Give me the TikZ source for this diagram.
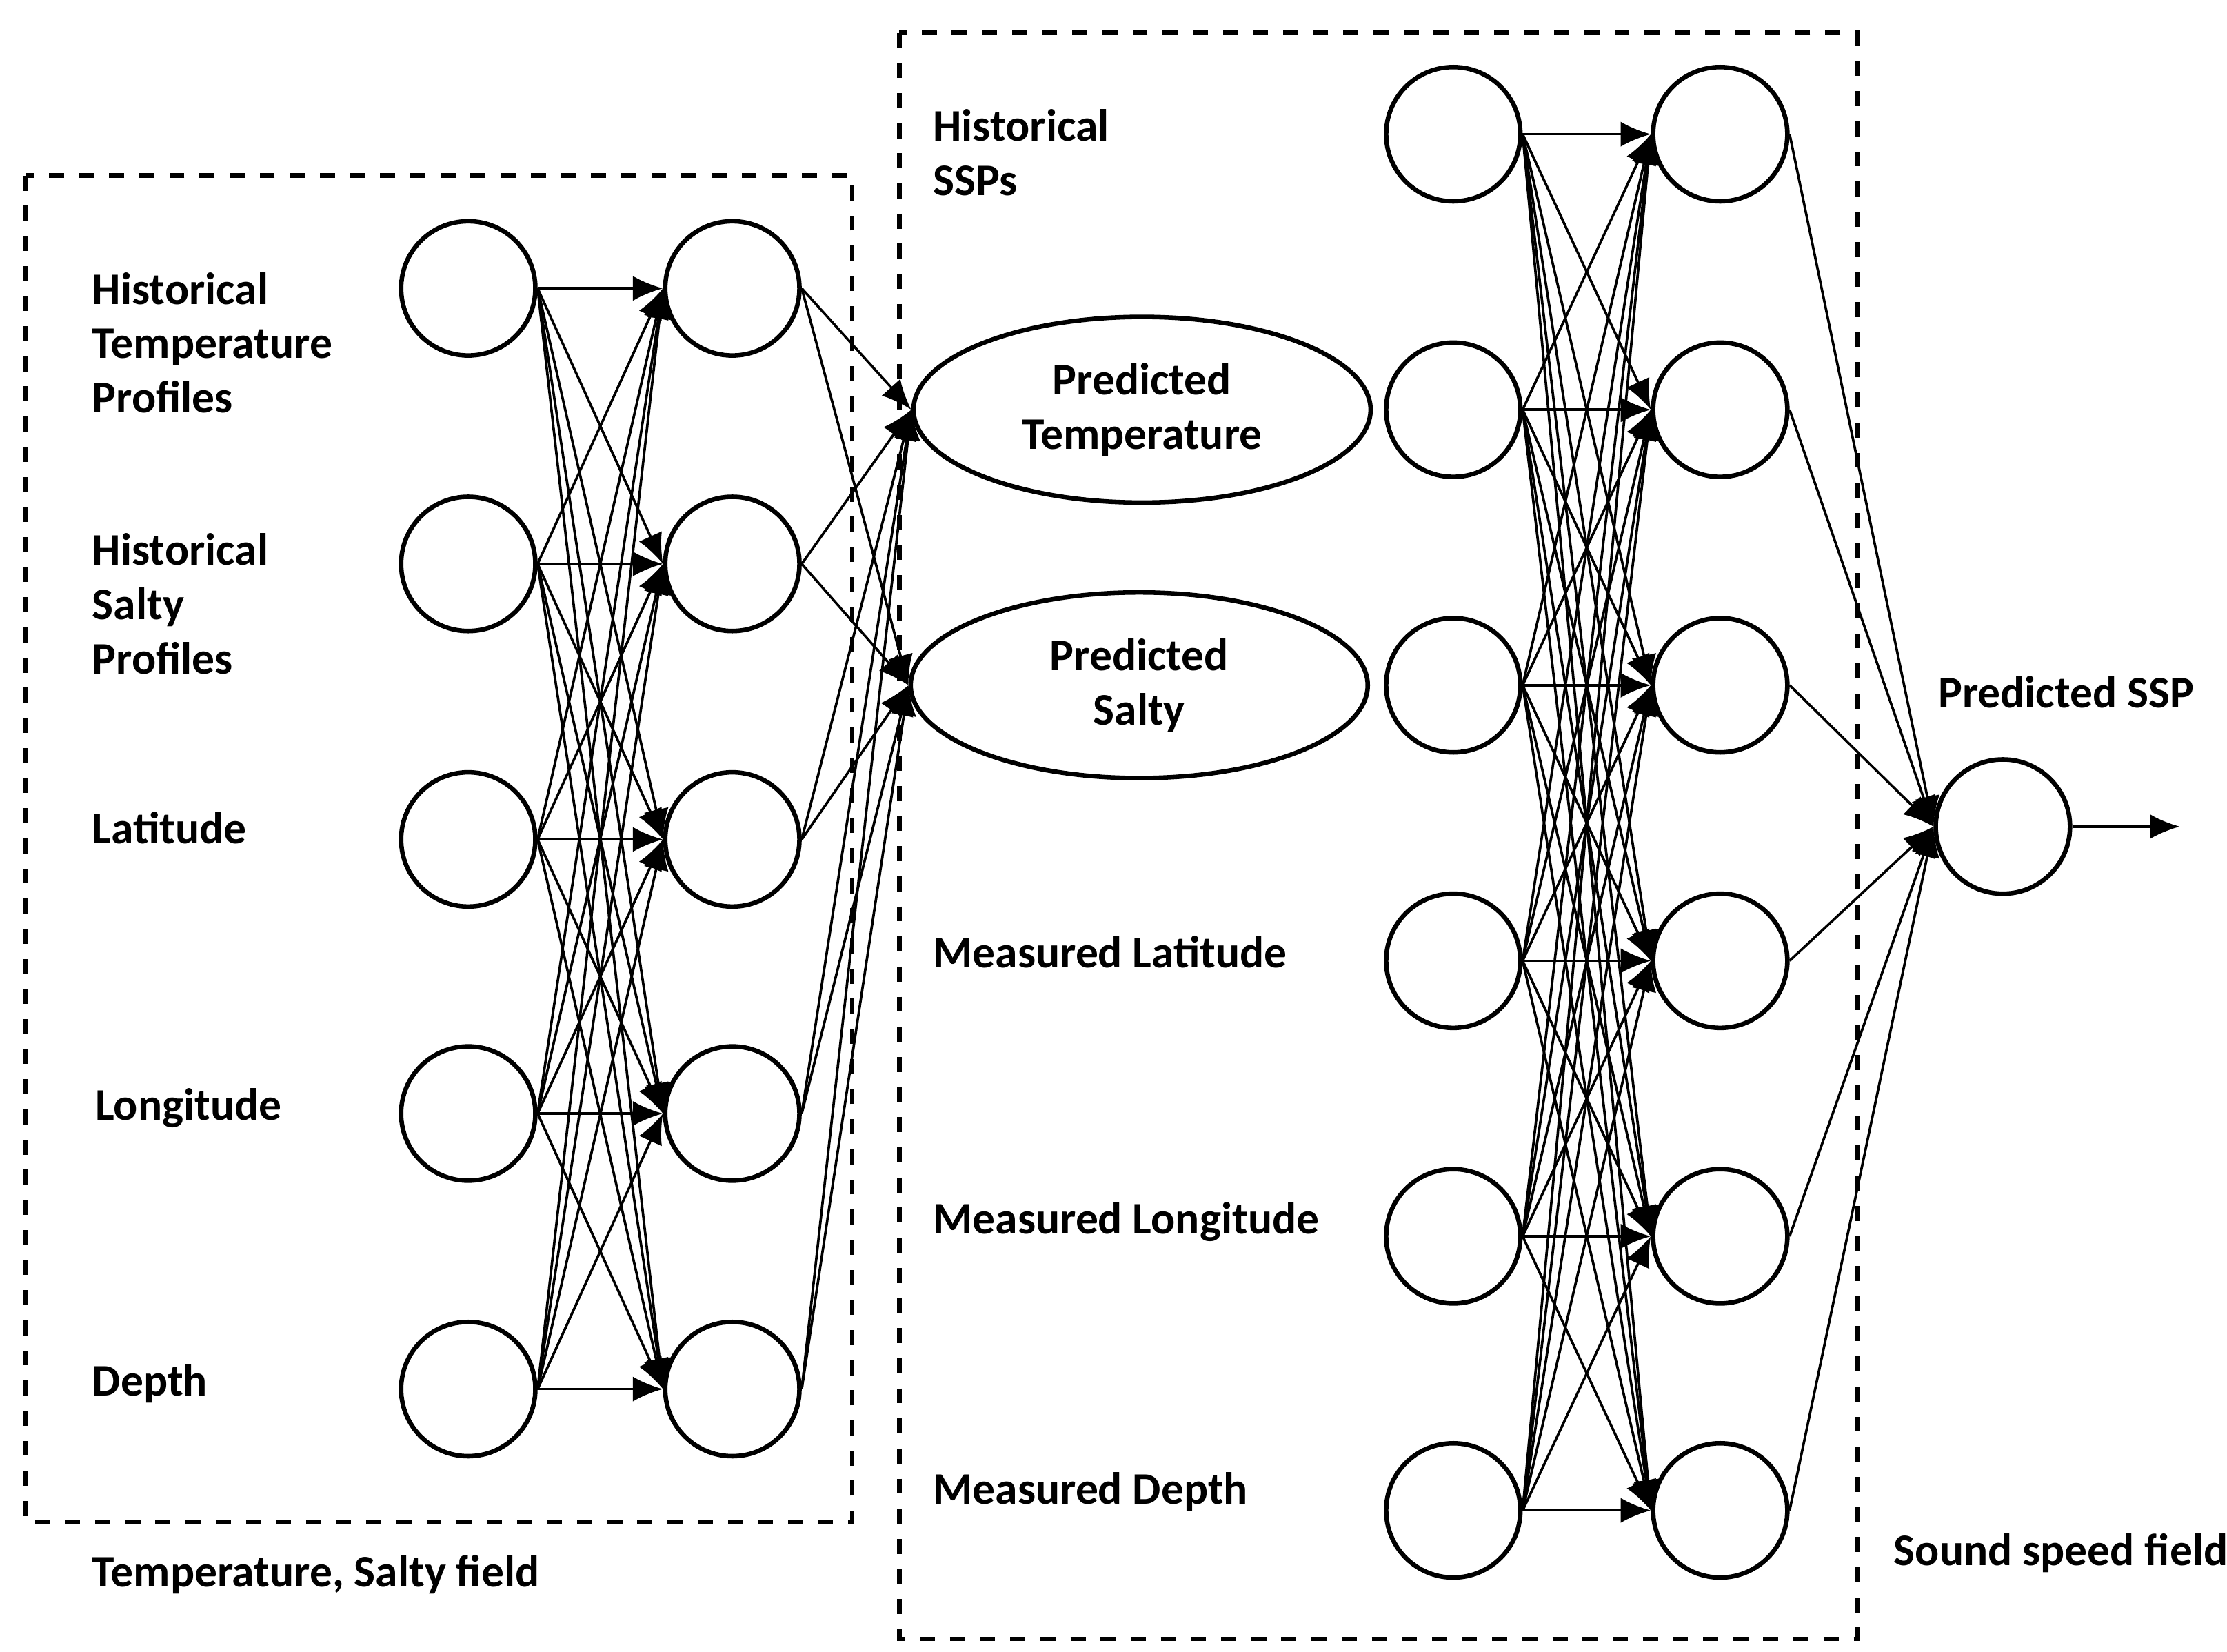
\documentclass[tikz,border=0pt]{standalone}
\usepackage{fontspec}
\setmainfont{Carlito}
\usetikzlibrary{positioning,arrows.meta,shapes.geometric}
\tikzset{
  neuron/.style={draw,circle,minimum size=0.94cm,inner sep=0pt,line width=0.9pt},
  pred/.style={draw,ellipse,minimum width=3.2cm,minimum height=1.3cm,line width=0.9pt,align=center,
    font=\bfseries\fontsize{9}{10.8}\selectfont},
  lbl/.style={font=\bfseries\fontsize{9}{10.8}\selectfont,align=left,anchor=west,inner sep=0pt},
  conn/.style={-{Latex[length=6pt,width=5pt]},line width=0.5pt},
  field/.style={draw,dashed,line width=0.9pt}
}
\begin{document}
\begin{tikzpicture}[x=0.01cm,y=-0.01cm]
\useasboundingbox (0,0) rectangle (1560,1157);
% dashed boxes
\draw[field] (18,123) rectangle (597,1066);
\draw[field] (630,23) rectangle (1301,1148);
% left network
\foreach \i/\y in {1/202,2/395,3/588,4/780,5/973}
{
  \node[neuron] (a\i) at (328,\y) {};
  \node[neuron] (b\i) at (513,\y) {};
}
\foreach \i in {1,...,5}
  \foreach \j in {1,...,5}
    \draw[conn] (a\i.east) -- (b\j.west);
\node[pred] (pt) at (800,287) {Predicted\\Temperature};
\node[pred] (ps) at (798,480) {Predicted\\Salty};
\foreach \i in {1,...,5}
{
  \draw[conn] (b\i.east) -- (pt.west);
  \draw[conn] (b\i.east) -- (ps.west);
}
% right network
\foreach \i/\y in {1/94,2/287,3/480,4/673,5/866,6/1058}
{
  \node[neuron] (c\i) at (1018,\y) {};
  \node[neuron] (d\i) at (1205,\y) {};
}
\foreach \i in {1,...,6}
  \foreach \j in {1,...,6}
    \draw[conn] (c\i.east) -- (d\j.west);
\node[neuron] (out) at (1403,579) {};
\foreach \i in {1,...,6}
  \draw[conn] (d\i.east) -- (out.west);
\coordinate (end) at (1527,579);
\draw[conn] (out) -- (end);
% labels
\node[lbl] at (64,240) {Historical\\Temperature\\Profiles};
\node[lbl] at (64,423) {Historical\\Salty\\Profiles};
\node[lbl] at (64,580) {Latitude};
\node[lbl] at (66,776) {Longitude};
\node[lbl] at (64,969) {Depth};
\node[lbl] at (64,1103) {Temperature, Salty field};
\node[lbl] at (653,107) {Historical\\SSPs};
\node[lbl] at (653,667) {Measured Latitude};
\node[lbl] at (653,856) {Measured Longitude};
\node[lbl] at (653,1045) {Measured Depth};
\node[lbl] at (1357,485) {Predicted SSP};
\node[lbl] at (1326,1088) {Sound speed field};
\end{tikzpicture}
\end{document}
